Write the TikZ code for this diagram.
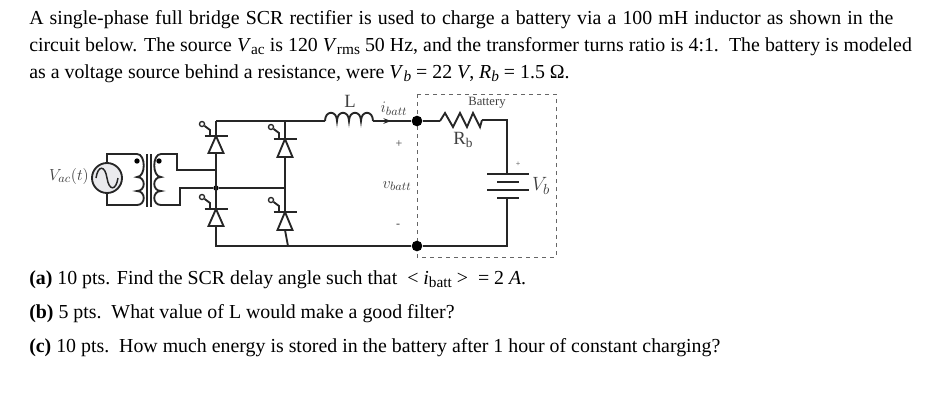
\documentclass[tikz,border=0pt]{standalone}
\usepackage{fontspec}
\setmainfont{Liberation Serif}
\usetikzlibrary{arrows.meta,positioning}
\newcommand{\subtxt}[1]{\raisebox{-2.5pt}{\fontsize{11.5}{11.5}\selectfont #1}}
\newcommand{\fitline}[2]{\makebox[#1pt][s]{#2}}

\begin{document}
\begin{tikzpicture}[x=0.75pt,y=-0.75pt,{wire/.style={line width=1.4pt,color=black!85,line join=miter}},{place/.style={circle,fill=black,inner sep=0pt,minimum size=8pt}},{gatepin/.style={circle,draw=black!85,fill=white,line width=1pt,inner sep=0pt,minimum size=3.8pt}},{bodytext/.style={anchor=base west,inner sep=0pt,font=\fontsize{14.9}{14.9}\selectfont}},{figlabel/.style={inner sep=0pt,color=black!75}}]
	\useasboundingbox (0,0) rectangle (934,401);
	%%problem text
	\node at (29,24) [bodytext] (line1) {\fitline{648}{A single-phase full bridge SCR rectifier is used to charge a battery via a 100 mH inductor as shown in the}};
	\node at (29,51) [bodytext] (line2) {\fitline{662}{circuit below. The source \textit{V}\subtxt{ac} is 120 \textit{V}\subtxt{rms} 50 Hz, and the transformer turns ratio is 4:1.\ \ The battery is modeled}};
	\node at (29,78) [bodytext] (line3) {as a voltage source behind a resistance, were \textit{V}\subtxt{\textit{b}} = 22 \textit{V}, \textit{R}\subtxt{\textit{b}} = 1.5 Ω.};
	\node at (29,284) [bodytext] (parta) {\textbf{(a)} 10 pts. Find the SCR delay angle such that \ < \textit{i}\subtxt{batt} > \ = 2 \textit{A}.};
	\node at (29,318) [bodytext] (partb) {\textbf{(b)} 5 pts.\ \ What value of L would make a good filter?};
	\node at (29,352) [bodytext] (partc) {\textbf{(c)} 10 pts.\ \ How much energy is stored in the battery after 1 hour of constant charging?};

	%%battery box
	\node at (417,94) [inner sep=0pt] (boxa) {};
	\node at (556,257) [inner sep=0pt] (boxb) {};
	\draw [dashed,line width=0.5pt,color=black!60] (boxa) rectangle (boxb);

	%%corner points
	\coordinate (tl) at (216,121);
	\coordinate (tr) at (285,121);
	\coordinate (bl) at (216,246);
	\coordinate (br) at (288,246);
	\coordinate (la) at (325,121);
	\coordinate (lb) at (373,121);
	\coordinate (ra) at (440,121);
	\coordinate (rb) at (482,120);
	\coordinate (corner) at (507,120);
	\coordinate (corner2) at (507,246);
	\node at (417,121) [place] (ntop) {};
	\node at (417,246) [place] (nbot) {};
	\node at (216,188) [circle,fill=black,inner sep=0pt,minimum size=4pt] (nmid) {};
	\coordinate (mr) at (285,188);

	%%bridge legs and rails
	\draw [wire] (tl) -- (la);
	\draw [wire] (lb) -- (ntop) -- (ra);
	\draw [wire] (rb) -- (corner) -- (507,174);
	\draw [wire] (507,198) -- (corner2) -- (nbot) -- (bl) -- (tl);
	\draw [wire] (tr) -- (285,212);
	\draw [wire] (285,230) -- (br);
	\draw [wire] (nmid) -- (mr);

	%%SCRs
	\foreach \n/\x/\y/\b in {a/216/136/153,b/285/139/157,c/216/209/226,d/285/212/230}{
		\draw [wire] (\x-11.5,\y) -- (\x+11.5,\y);
		\draw [wire,fill=white] (\x,\y) -- (\x+7.5,\b) -- (\x-7.5,\b) -- cycle;
		\node at (\x-14,\y-12) [gatepin] (g\n) {};
		\draw [wire] (g\n) -- (\x-6,\y-6) -- (\x-6,\y);
	}

	%%source
	\node at (107,178) [circle,draw=black!85,fill=blue!8!gray!15,line width=1.4pt,inner sep=0pt,minimum size=22.5pt] (src) {};
	\draw [line width=1.1pt,color=black!85] (96,178) .. controls (98,165) and (105,165) .. (107,178) .. controls (109,191) and (116,191) .. (118,178);
	\coordinate (pa) at (137,154);
	\coordinate (pb) at (137,205);
	\coordinate (sa) at (161,154);
	\coordinate (sb) at (161,205);

	%%transformer
	\draw [wire] (src.north) -- (107,154) -- (pa) .. controls (146,154) and (146,177) .. (137,177) .. controls (146,177) and (146,191) .. (137,191) .. controls (146,191) and (146,205) .. (pb) -- (107,205) -- (src.south);
	\draw [wire] (147,154) -- (147,207);
	\draw [wire] (151,154) -- (151,207);
	\draw [wire] (216,170) -- (177,170) -- (177,154) -- (sa) .. controls (152,154) and (152,177) .. (161,177) .. controls (152,177) and (152,191) .. (161,191) .. controls (152,191) and (152,205) .. (sb) -- (180,205) -- (180,188) -- (nmid);
	\node at (137,161) [circle,fill=black,inner sep=0pt,minimum size=4pt] (dotp) {};
	\node at (159,161) [circle,fill=black,inner sep=0pt,minimum size=4pt] (dots) {};

	%%inductor
	\draw [wire] (la) foreach \i in {0,12,24,36}{ .. controls (325+\i,110) and (337+\i,110) .. (337+\i,121)};
	\coordinate (lc) at (391,121);
	\draw [-{Stealth[length=2mm]},wire] (lb) -- (lc);

	%%resistor
	\draw [wire] (ra) -- (445,113) -- (453,127) -- (460,113) -- (467,127) -- (473,113) -- (480,127) -- (rb);

	%%battery
	\draw [wire] (487,174) -- (529,174);
	\draw [wire] (497,182) -- (519,182);
	\draw [wire] (487,190) -- (529,190);
	\draw [wire] (497,198) -- (519,198);

	%%labels
	\node at (69,176) [figlabel] (vac) {\fontsize{13}{13}\selectfont$V_{ac}(t)$};
	\node at (350,101) [figlabel] (lbl) {\fontsize{14}{14}\selectfont L};
	\node at (394,109) [figlabel] (ibatt) {\fontsize{13}{13}\selectfont$i_{batt}$};
	\node at (399,144) [figlabel] (plus) {\fontsize{9}{9}\selectfont +};
	\node at (397,186) [figlabel] (vbatt) {\fontsize{13}{13}\selectfont$v_{batt}$};
	\node at (398,226) [figlabel] (minus) {\fontsize{9}{9}\selectfont -};
	\node at (487,103) [figlabel] (batt) {\fontsize{9.5}{9.5}\selectfont Battery};
	\node at (463,140) [figlabel] (rblbl) {\fontsize{14}{14}\selectfont R{\fontsize{10}{10}\selectfont\raisebox{-2pt}{b}}};
	\node at (518,164) [figlabel] (plus2) {\fontsize{6}{6}\selectfont +};
	\node at (541,186) [figlabel] (vb) {\fontsize{15}{15}\selectfont$V_b$};
\end{tikzpicture}
\end{document}
